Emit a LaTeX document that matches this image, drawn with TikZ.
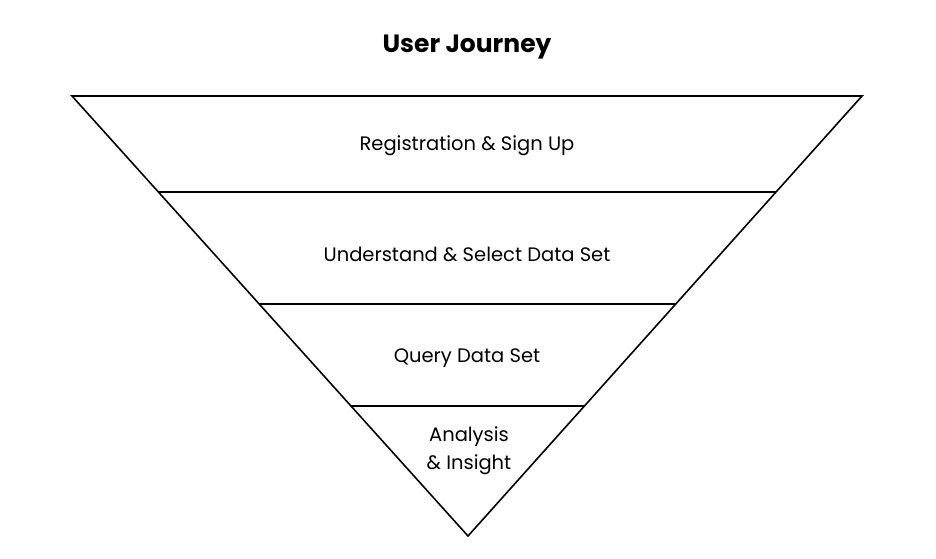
\documentclass[tikz,border=0pt]{standalone}
\usepackage{fontspec}
\setmainfont{Poppins}
\usetikzlibrary{calc}

\begin{document}
\begin{tikzpicture}[x=1pt,y=-1pt,
  funnel/.style={line width=1.6pt,line join=miter},
  stage/.style={font=\fontsize{19.5}{28}\selectfont,align=center}]
\useasboundingbox (0,0) rectangle (936,558);
\node[font=\fontsize{25}{28}\selectfont\bfseries] (title) at (467,47) {User Journey};
% funnel outline
\draw[funnel] (72,96) -- (862,96) -- (468,536) -- cycle;
\draw[funnel] (158,192) -- (776,192);
\draw[funnel] (259,304) -- (676,304);
\draw[funnel] (351,406) -- (584,406);
% stages
\node[stage] (reg) at (467,146) {Registration \& Sign Up};
\node[stage] (sel) at (467,254) {Understand \& Select Data Set};
\node[stage] (qry) at (467,358) {Query Data Set};
\node[stage] (ana) at (469,451) {Analysis\\\& Insight};
\end{tikzpicture}
\end{document}
